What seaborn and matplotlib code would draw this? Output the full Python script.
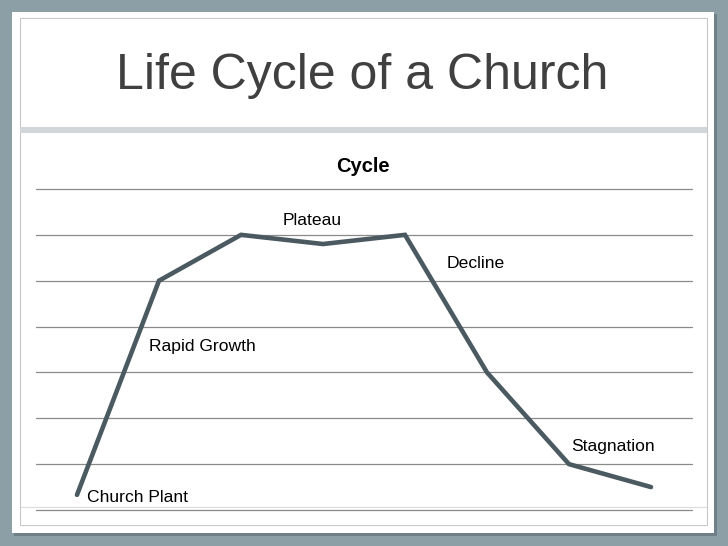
import matplotlib
matplotlib.use("Agg")
import matplotlib.pyplot as plt
import seaborn as sns
import pandas as pd
from matplotlib.patches import Rectangle
from matplotlib.lines import Line2D

stages = ["Church Plant", "s1", "s2", "s3", "s4", "s5", "s6", "s7"]
positions = [0, 1, 2, 3, 4, 5, 6, 7]
values = [0.33, 5.0, 6.0, 5.8, 6.0, 3.0, 1.0, 0.5]
label_texts = ["Church Plant", "Rapid Growth", "Plateau", "Decline", "Stagnation"]
label_points = [0, 1, 3, 4, 6]

sns.set_theme(style="white")
plt.rcParams['font.family'] = ['Liberation Sans Narrow', 'Liberation Sans', 'DejaVu Sans']

W, H = 728, 546
fig = plt.figure(figsize=(W / 100, H / 100), dpi=100, facecolor="#8d9fa6")

def px(x0, y0, x1, y1):
    return [x0 / W, 1 - y1 / H, (x1 - x0) / W, (y1 - y0) / H]

# slide shadow + white slide
b = px(14, 14, 717, 536)
fig.patches.append(Rectangle((b[0], b[1]), b[2], b[3], transform=fig.transFigure,
                             facecolor="#6f8088", edgecolor="none", zorder=0))
b = px(12, 12, 714, 533)
fig.patches.append(Rectangle((b[0], b[1]), b[2], b[3], transform=fig.transFigure,
                             facecolor="white", edgecolor="none", zorder=1))
b = px(20, 18, 707, 525)
fig.patches.append(Rectangle((b[0], b[1]), b[2], b[3], transform=fig.transFigure,
                             facecolor="none", edgecolor="#c8c8c8", linewidth=0.8, zorder=2))
# title separator bar
b = px(20, 127, 707, 132.5)
fig.patches.append(Rectangle((b[0], b[1]), b[2], b[3], transform=fig.transFigure,
                             facecolor="#d0d6d9", edgecolor="none", zorder=2))
# faint line near bottom
fig.lines.append(Line2D([20 / W, 707 / W], [1 - 507 / H, 1 - 507 / H],
                        transform=fig.transFigure, color="#dcdcdc", linewidth=0.8, zorder=2))

fig.text(362 / W, 1 - 76 / H, "Life Cycle of a Church", ha="center", va="center",
         fontsize=36, color="#404040", zorder=3)

# chart axes: x from -0.5 (px 36) to 7.5 (px 692); y 0 (px 510) to 7 (px 189)
ax = fig.add_axes(px(36, 189, 692, 510))
ax.set_zorder(3)
ax.patch.set_alpha(0)

df = pd.DataFrame({"pos": positions, "value": values})
sns.lineplot(data=df, x="pos", y="value", ax=ax, color="#4b5a61", linewidth=3.3,
             solid_joinstyle="miter", solid_capstyle="round")

ax.set_xlim(-0.5, 7.5)
ax.set_ylim(0, 7)
ax.set_yticks(range(0, 8))
ax.set_xticks([])
ax.set_yticklabels([])
ax.tick_params(left=False, bottom=False)
ax.set_xlabel("")
ax.set_ylabel("")
for s in ax.spines.values():
    s.set_visible(False)
ax.grid(axis="y", color="#8a8a8a", linewidth=0.9)
for gl in ax.get_ygridlines():
    gl.set_clip_on(False)
ax.set_axisbelow(True)

fig.text(363 / W, 1 - 166 / H, "Cycle", ha="center", va="center", fontsize=14.5,
         fontweight="bold", color="black", zorder=4)

# data labels (offsets in px relative to their points)
offsets = [(10, 3), (-10, 66), (-40, -24), (42, 29), (2, -18)]
for txt, i, (dx, dy) in zip(label_texts, label_points, offsets):
    ax.annotate(txt, (positions[i], values[i]), xytext=(dx * 0.72, -dy * 0.72),
                textcoords="offset points", ha="left", va="center", fontsize=12.6,
                color="black", annotation_clip=False)

fig.savefig("out.png", dpi=100, facecolor=fig.get_facecolor())
